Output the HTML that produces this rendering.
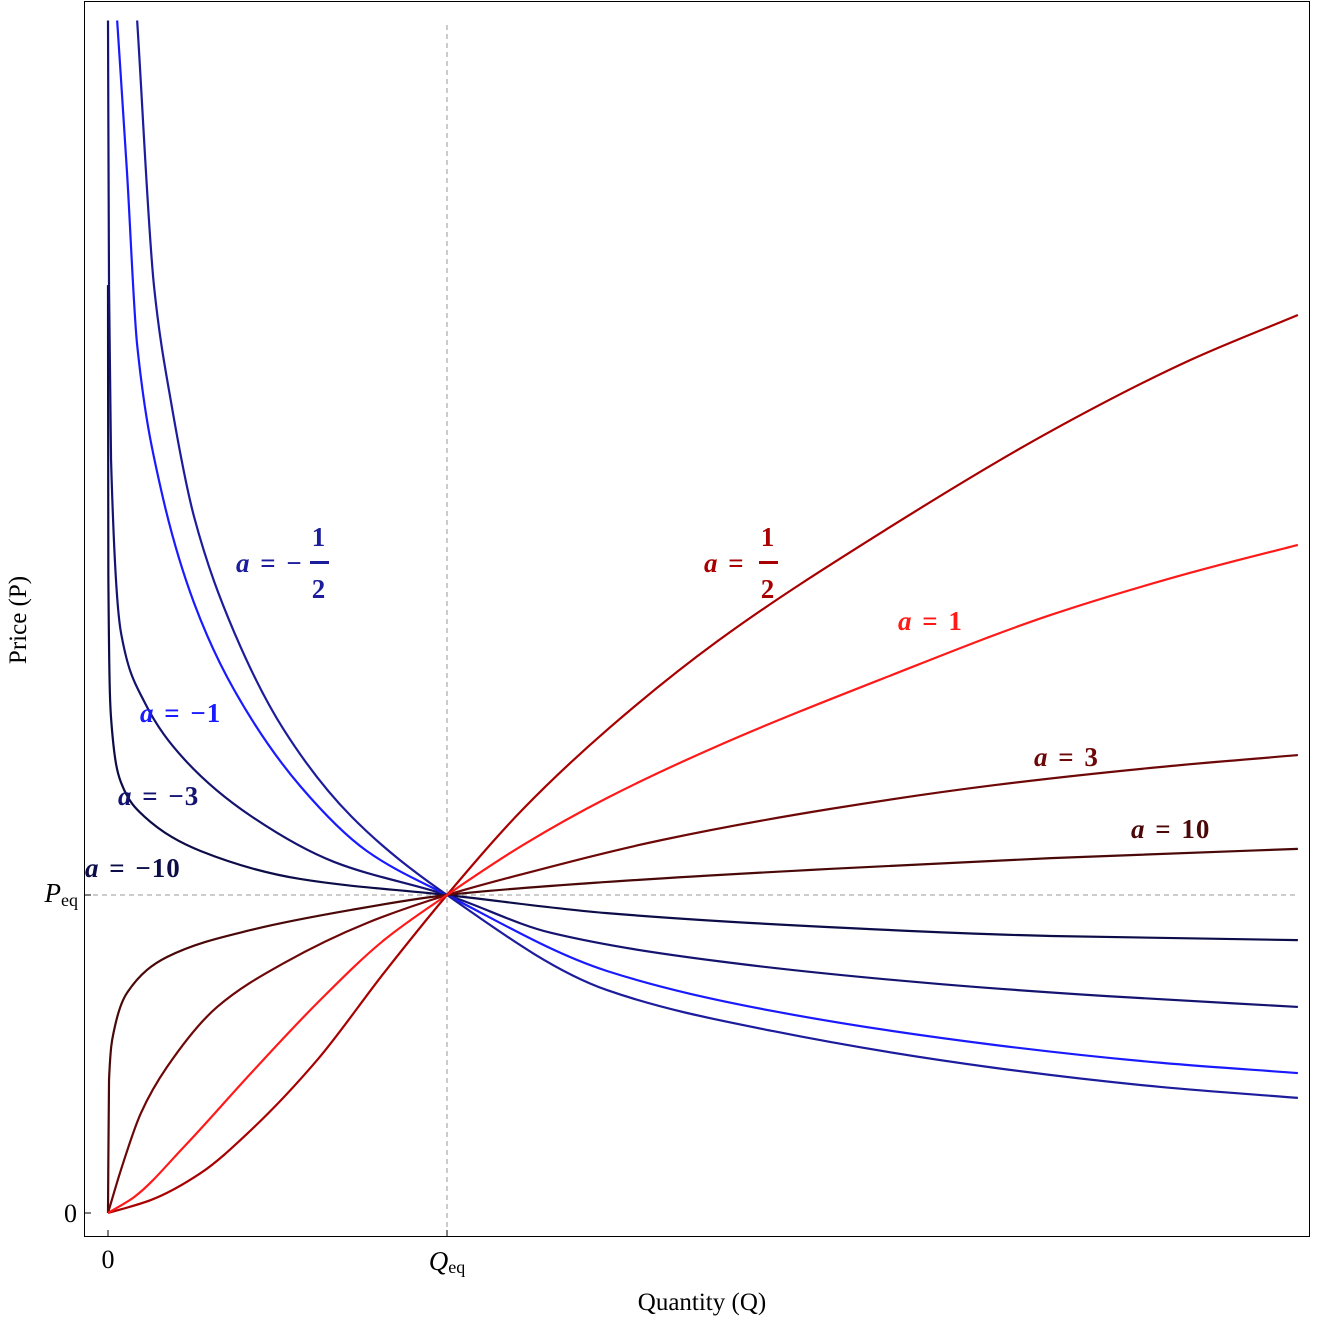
<!DOCTYPE html>
<html><head><meta charset="utf-8"><style>
html,body{margin:0;padding:0;background:#fff;}
svg{display:block;font-family:"Liberation Serif",serif;}
.lbl{font-weight:bold;font-size:27px;letter-spacing:1px;word-spacing:2px;}
</style></head><body>
<svg id="chart" width="1321" height="1320" viewBox="0 0 1321 1320" xmlns="http://www.w3.org/2000/svg">
<rect x="84.5" y="1.5" width="1225" height="1235" fill="none" stroke="#000" stroke-width="1"/>
<defs><clipPath id="clip"><rect x="84" y="20" width="1226" height="1217"/></clipPath></defs>
<line x1="447" y1="25" x2="447" y2="1237" stroke="#999" stroke-dasharray="5,4"/>
<line x1="84" y1="895" x2="1297" y2="895" stroke="#999" stroke-dasharray="5,4"/>
<g id="curves" clip-path="url(#clip)"></g>
<g>
<line x1="108" y1="1237" x2="108" y2="1230" stroke="#000"/>
<line x1="447" y1="1237" x2="447" y2="1230" stroke="#000"/>
<text x="108" y="1268" text-anchor="middle" font-size="26">0</text>
<text x="447" y="1270" text-anchor="middle" font-size="27"><tspan font-style="italic">Q</tspan><tspan font-size="18" dy="3">eq</tspan></text>
<text x="702" y="1310" text-anchor="middle" font-size="25">Quantity (Q)</text>
</g>
<g>
<line x1="84" y1="1213" x2="91" y2="1213" stroke="#000"/>
<line x1="84" y1="895" x2="91" y2="895" stroke="#000"/>
<text x="77" y="1222" text-anchor="end" font-size="26">0</text>
<text x="78" y="902" text-anchor="end" font-size="27"><tspan font-style="italic">P</tspan><tspan font-size="18" dy="4">eq</tspan></text>
<text transform="translate(26,620) rotate(-90)" text-anchor="middle" font-size="25">Price (P)</text>
</g>
<g class="lbl">
<text x="236" y="572" fill="#1c1c9c"><tspan font-style="italic">a</tspan> = −</text>
<text x="319" y="546" fill="#1c1c9c" text-anchor="middle">1</text>
<rect x="310" y="561" width="19" height="3" fill="#1c1c9c"/>
<text x="319" y="598" fill="#1c1c9c" text-anchor="middle">2</text>
<text x="140" y="722" fill="#1a1aff"><tspan font-style="italic">a</tspan> = −1</text>
<text x="118" y="805" fill="#141470"><tspan font-style="italic">a</tspan> = −3</text>
<text x="85" y="877" fill="#0c0c48"><tspan font-style="italic">a</tspan> = −10</text>
<text x="704" y="572" fill="#a80000"><tspan font-style="italic">a</tspan> =</text>
<text x="768" y="546" fill="#a80000" text-anchor="middle">1</text>
<rect x="759" y="561" width="19" height="3" fill="#a80000"/>
<text x="768" y="598" fill="#a80000" text-anchor="middle">2</text>
<text x="898" y="630" fill="#ff1a1a"><tspan font-style="italic">a</tspan> = 1</text>
<text x="1034" y="766" fill="#6e0808"><tspan font-style="italic">a</tspan> = 3</text>
<text x="1131" y="838" fill="#4a0808"><tspan font-style="italic">a</tspan> = 10</text>
</g>
</svg>
<script>
// data units: Q in multiples of Qeq, P in multiples of Peq
const qNegHalf = [0.086,0.136,0.186,0.254,0.372,0.519,0.717,1,1.472,1.962,2.619,3.109,3.51];
const pNegHalf = [3.75,2.912,2.550,2.189,1.827,1.519,1.248,1,0.701,0.572,0.456,0.396,0.362];
const qNeg1 = [0.027,0.056,0.086,0.156,0.254,0.372,0.569,0.764,1,1.472,1.962,2.619,3.109,3.51];
const pNeg1 = [3.75,3.274,2.730,2.277,1.918,1.645,1.340,1.138,1,0.761,0.635,0.528,0.472,0.440];
const qNeg3 = [0,0.003,0.009,0.038,0.106,0.224,0.422,0.667,1,1.307,1.799,2.454,2.947,3.51];
const pNeg3 = [3.75,2.912,2.368,1.827,1.610,1.428,1.248,1.104,1,0.881,0.792,0.720,0.682,0.648];
const qNeg10 = [0,0.001,0.009,0.038,0.106,0.274,0.569,1,1.472,2.127,2.782,3.51];
const pNeg10 = [2.918,2.006,1.557,1.355,1.248,1.138,1.050,1,0.943,0.899,0.871,0.858];
const qPos10 = [0,0.003,0.018,0.056,0.174,0.422,0.717,1,1.472,2.127,2.782,3.51];
const pPos10 = [0,0.418,0.575,0.692,0.805,0.890,0.953,1,1.041,1.082,1.116,1.145];
const qPos3 = [0,0.038,0.097,0.174,0.322,0.519,0.764,1,1.224,1.634,2.127,2.619,3.109,3.51];
const pPos3 = [0,0.135,0.314,0.459,0.648,0.786,0.912,1,1.066,1.173,1.270,1.346,1.403,1.440];
const qPos1 = [0,0.077,0.224,0.422,0.617,0.814,1,1.224,1.472,1.799,2.289,2.782,3.192,3.51];
const pPos1 = [0,0.050,0.208,0.440,0.660,0.858,1,1.157,1.305,1.469,1.682,1.881,2.013,2.101];
const qPosHalf = [0,0.127,0.274,0.422,0.617,0.814,1,1.224,1.472,1.799,2.289,2.782,3.192,3.51];
const pPosHalf = [0,0.041,0.126,0.261,0.481,0.755,1,1.270,1.519,1.799,2.145,2.459,2.682,2.824];

function xScale(q){ return 108 + q*339; }
function yScale(p){ return 1213 - p*318; }

function pathFrom(qs, ps){
  const xs = qs.map(xScale), ys = ps.map(yScale), n = xs.length;
  const dx = [], m = [];
  for(let i=0;i<n-1;i++){ dx.push(xs[i+1]-xs[i]); m.push((ys[i+1]-ys[i])/dx[i]); }
  const t = new Array(n);
  t[0] = m[0]; t[n-1] = m[n-2];
  for(let i=1;i<n-1;i++){
    if(m[i-1]*m[i] <= 0) t[i] = 0;
    else { const w1 = 2*dx[i]+dx[i-1], w2 = dx[i]+2*dx[i-1]; t[i] = (w1+w2)/(w1/m[i-1]+w2/m[i]); }
  }
  let d = 'M'+xs[0].toFixed(2)+','+ys[0].toFixed(2);
  for(let i=0;i<n-1;i++){
    const h = dx[i]/3;
    d += ' C'+(xs[i]+h).toFixed(2)+','+(ys[i]+t[i]*h).toFixed(2)+' '+(xs[i+1]-h).toFixed(2)+','+(ys[i+1]-t[i+1]*h).toFixed(2)+' '+xs[i+1].toFixed(2)+','+ys[i+1].toFixed(2);
  }
  return d;
}
const g = document.getElementById('curves');
function addCurve(qs, ps, color, name){
  const el = document.createElementNS('http://www.w3.org/2000/svg','path');
  el.setAttribute('d', pathFrom(qs, ps));
  el.setAttribute('fill','none');
  el.setAttribute('stroke', color);
  el.setAttribute('stroke-width','2.2');
  
  
  g.appendChild(el);
}
addCurve(qNeg10, pNeg10, '#0c0c48', 'demand-curve-a-neg-10');
addCurve(qNeg3, pNeg3, '#141470', 'demand-curve-a-neg-3');
addCurve(qNeg1, pNeg1, '#1a1aff', 'demand-curve-a-neg-1');
addCurve(qNegHalf, pNegHalf, '#1c1c9c', 'demand-curve-a-neg-half');
addCurve(qPos10, pPos10, '#4a0808', 'supply-curve-a-10');
addCurve(qPos3, pPos3, '#6e0808', 'supply-curve-a-3');
addCurve(qPosHalf, pPosHalf, '#a80000', 'supply-curve-a-half');
addCurve(qPos1, pPos1, '#ff1a1a', 'supply-curve-a-1');
</script>
</body></html>
